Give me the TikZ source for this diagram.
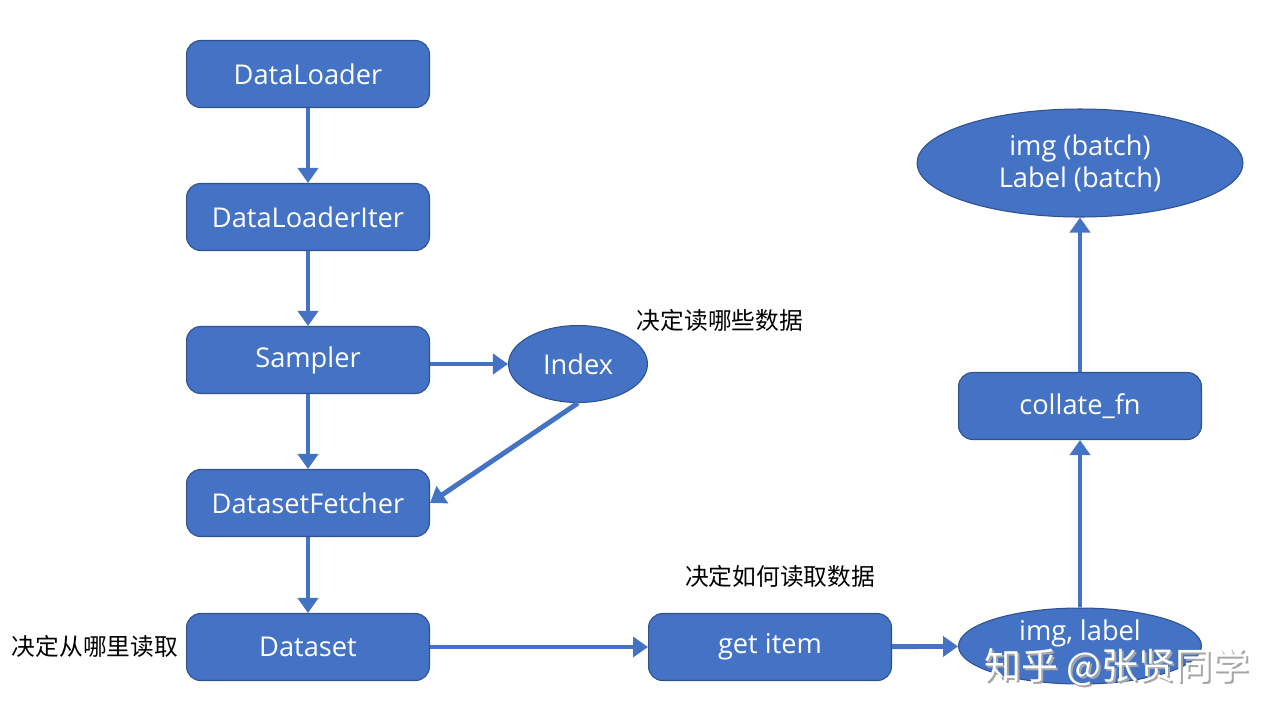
\documentclass[tikz,border=0pt]{standalone}
\usepackage{fontspec}
\setmainfont{Open Sans}
\newfontfamily\cjk{Noto Sans CJK SC}
\usetikzlibrary{shapes.geometric, arrows.meta}
\definecolor{boxblue}{HTML}{4472C4}
\definecolor{boxline}{HTML}{2F528F}

\begin{document}
\begin{tikzpicture}[x=0.02cm, y=-0.02cm,
    box/.style={draw=boxline, line width=0.6pt, fill=boxblue, rounded corners=8, text=white,
        minimum width=4.86cm, minimum height=1.34cm, font=\fontsize{15.5}{18}\selectfont},
    oval/.style={ellipse, draw=boxline, line width=0.6pt, fill=boxblue, text=white, inner sep=0pt,
        align=center, font=\fontsize{15.5}{18}\selectfont},
    note/.style={font=\cjk\fontsize{13.5}{16}\selectfont, inner sep=0pt},
    flow/.style={boxblue, line width=2.8pt, -{Triangle[width=0.4cm, length=0.3cm]}}]
    \useasboundingbox (0,0) rectangle (1287,721);
    % Left column
    \node[box] (loader) at (308, 74) {DataLoader};
    \node[box] (iter) at (308, 217) {DataLoaderIter};
    \node[box] (sampler) at (308, 360) {Sampler};
    \node[box] (fetcher) at (308, 503) {DatasetFetcher};
    \node[box] (dataset) at (308, 647) {Dataset};
    % Right part
    \node[oval, minimum width=2.78cm, minimum height=1.54cm] (index) at (578, 364) {Index};
    \node[box] (getitem) at (770, 647) {get item};
    \node[oval, minimum width=4.86cm, minimum height=1.52cm] (sample) at (1080, 646) {img, label\\ \vphantom{A}};
    \node[box] (collate) at (1080, 406) {collate\_fn};
    \node[oval, minimum width=6.52cm, minimum height=2.16cm] (batch) at (1080, 163) {img (batch)\\Label (batch)};
    % Notes
    \node[note] (whichnote) at (720, 320) {决定读哪些数据};
    \node[note] (hownote) at (780, 576) {决定如何读取数据};
    \node[note] (wherenote) at (95, 646) {决定从哪里读取};
    % Arrows
    \draw[flow] (loader) -- (iter);
    \draw[flow] (iter) -- (sampler);
    \draw[flow] (sampler) -- (fetcher);
    \draw[flow] (fetcher) -- (dataset);
    \draw[flow] (sampler.east |- index.west) -- (index.west);
    \draw[flow] (index.south) -- (fetcher.east);
    \draw[flow] (dataset) -- (getitem);
    \draw[flow] (getitem) -- (sample);
    \draw[flow] (sample) -- (collate);
    \draw[flow] (collate) -- (batch);
    % Watermark
    \node[font=\cjk\fontsize{21}{23}\selectfont, text=black!35] (wmshadow) at (1119, 669) {知乎 @张贤同学};
    \node[font=\cjk\fontsize{21}{23}\selectfont, text=white] (wm) at (1117, 667) {知乎 @张贤同学};
\end{tikzpicture}
\end{document}
